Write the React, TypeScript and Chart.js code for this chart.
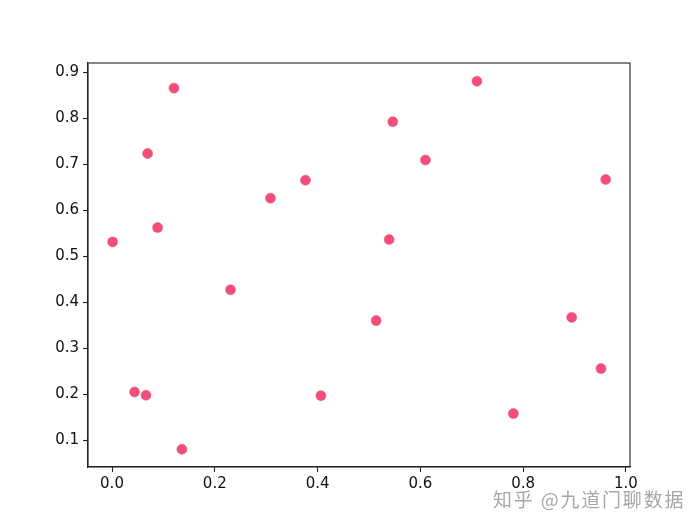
import React, { useEffect, useRef } from "react";
import { Chart, registerables } from "chart.js";

Chart.register(...registerables);

const xValues = [0.0012, 0.1206, 0.0693, 0.0887, 0.3084, 0.3764, 0.2306, 0.71, 0.5463, 0.6098, 0.9605, 0.5392, 0.0439, 0.0661, 0.136, 0.4064, 0.5139, 0.8944, 0.9514, 0.7809];
const yValues = [0.531, 0.865, 0.723, 0.562, 0.626, 0.665, 0.427, 0.88, 0.792, 0.709, 0.6665, 0.536, 0.205, 0.198, 0.0804, 0.197, 0.36, 0.367, 0.2557, 0.158];
const xTicks = [0.0, 0.2, 0.4, 0.6, 0.8, 1.0];
const yTicks = [0.1, 0.2, 0.3, 0.4, 0.5, 0.6, 0.7, 0.8, 0.9];
const watermark = "知乎 @九道门聊数据";

const frame = {
  id: "frame",
  afterDraw(chart: any) {
    const { ctx, chartArea } = chart;
    ctx.save();
    ctx.strokeStyle = "#222";
    ctx.lineWidth = 1.1;
    ctx.strokeRect(chartArea.left, chartArea.top, chartArea.right - chartArea.left, chartArea.bottom - chartArea.top);
    ctx.restore();
  },
};

export default function App() {
  const ref = useRef<HTMLCanvasElement>(null);
  useEffect(() => {
    const pts = xValues.map((x, i) => ({ x, y: yValues[i] }));
    const font = { family: "'DejaVu Sans', sans-serif", size: 15 };
    const chart = new Chart(ref.current!, {
      type: "scatter",
      data: {
        datasets: [
          {
            data: pts,
            backgroundColor: "rgba(240,70,115,0.95)",
            borderColor: "rgba(240,70,115,0.95)",
            borderWidth: 0.5,
            pointRadius: 5,
          },
        ],
      },
      options: {
        animation: false,
        responsive: false,
        devicePixelRatio: 1,
        layout: { padding: { top: 63, right: 70, left: 0, bottom: 0 } },
        plugins: { legend: { display: false }, tooltip: { enabled: false } },
        scales: {
          x: {
            type: "linear",
            min: -0.0467,
            max: 1.0078,
            afterBuildTicks: (s: any) => {
              s.ticks = xTicks.map((v) => ({ value: v }));
            },
            afterFit: (s: any) => {
              s.height = 58;
            },
            grid: { drawOnChartArea: false, drawTicks: true, tickLength: 5, color: "#222", tickWidth: 1.1 },
            border: { display: true, color: "#222", width: 1.1 },
            ticks: {
              color: "#111",
              font,
              padding: 3,
              maxRotation: 0,
              callback: (v: any) => Number(v).toFixed(1),
            },
          },
          y: {
            type: "linear",
            min: 0.042,
            max: 0.9196,
            afterBuildTicks: (s: any) => {
              s.ticks = yTicks.map((v) => ({ value: v }));
            },
            afterFit: (s: any) => {
              s.width = 88;
            },
            grid: { drawOnChartArea: false, drawTicks: true, tickLength: 5, color: "#222", tickWidth: 1.1 },
            border: { display: true, color: "#222", width: 1.1 },
            ticks: {
              color: "#111",
              font,
              padding: 4,
              callback: (v: any) => Number(v).toFixed(1),
            },
          },
        },
      },
      plugins: [frame],
    } as any);
    return () => chart.destroy();
  }, []);
  return (
    <div style={{ position: "fixed", left: 0, top: 0, width: 700, height: 525, background: "#fff" }}>
      <canvas ref={ref} width={700} height={525} style={{ width: 700, height: 525, display: "block" }} />
      <div
        style={{
          position: "absolute",
          left: 493,
          top: 487,
          fontFamily: "'Noto Sans CJK SC', sans-serif",
          fontSize: 19,
          letterSpacing: "1.8px",
          lineHeight: "24px",
          color: "rgba(150,150,150,0.85)",
          whiteSpace: "nowrap",
          textShadow: "0 0 2px #fff, 0 0 2px #fff",
        }}
      >
        {watermark}
      </div>
    </div>
  );
}
